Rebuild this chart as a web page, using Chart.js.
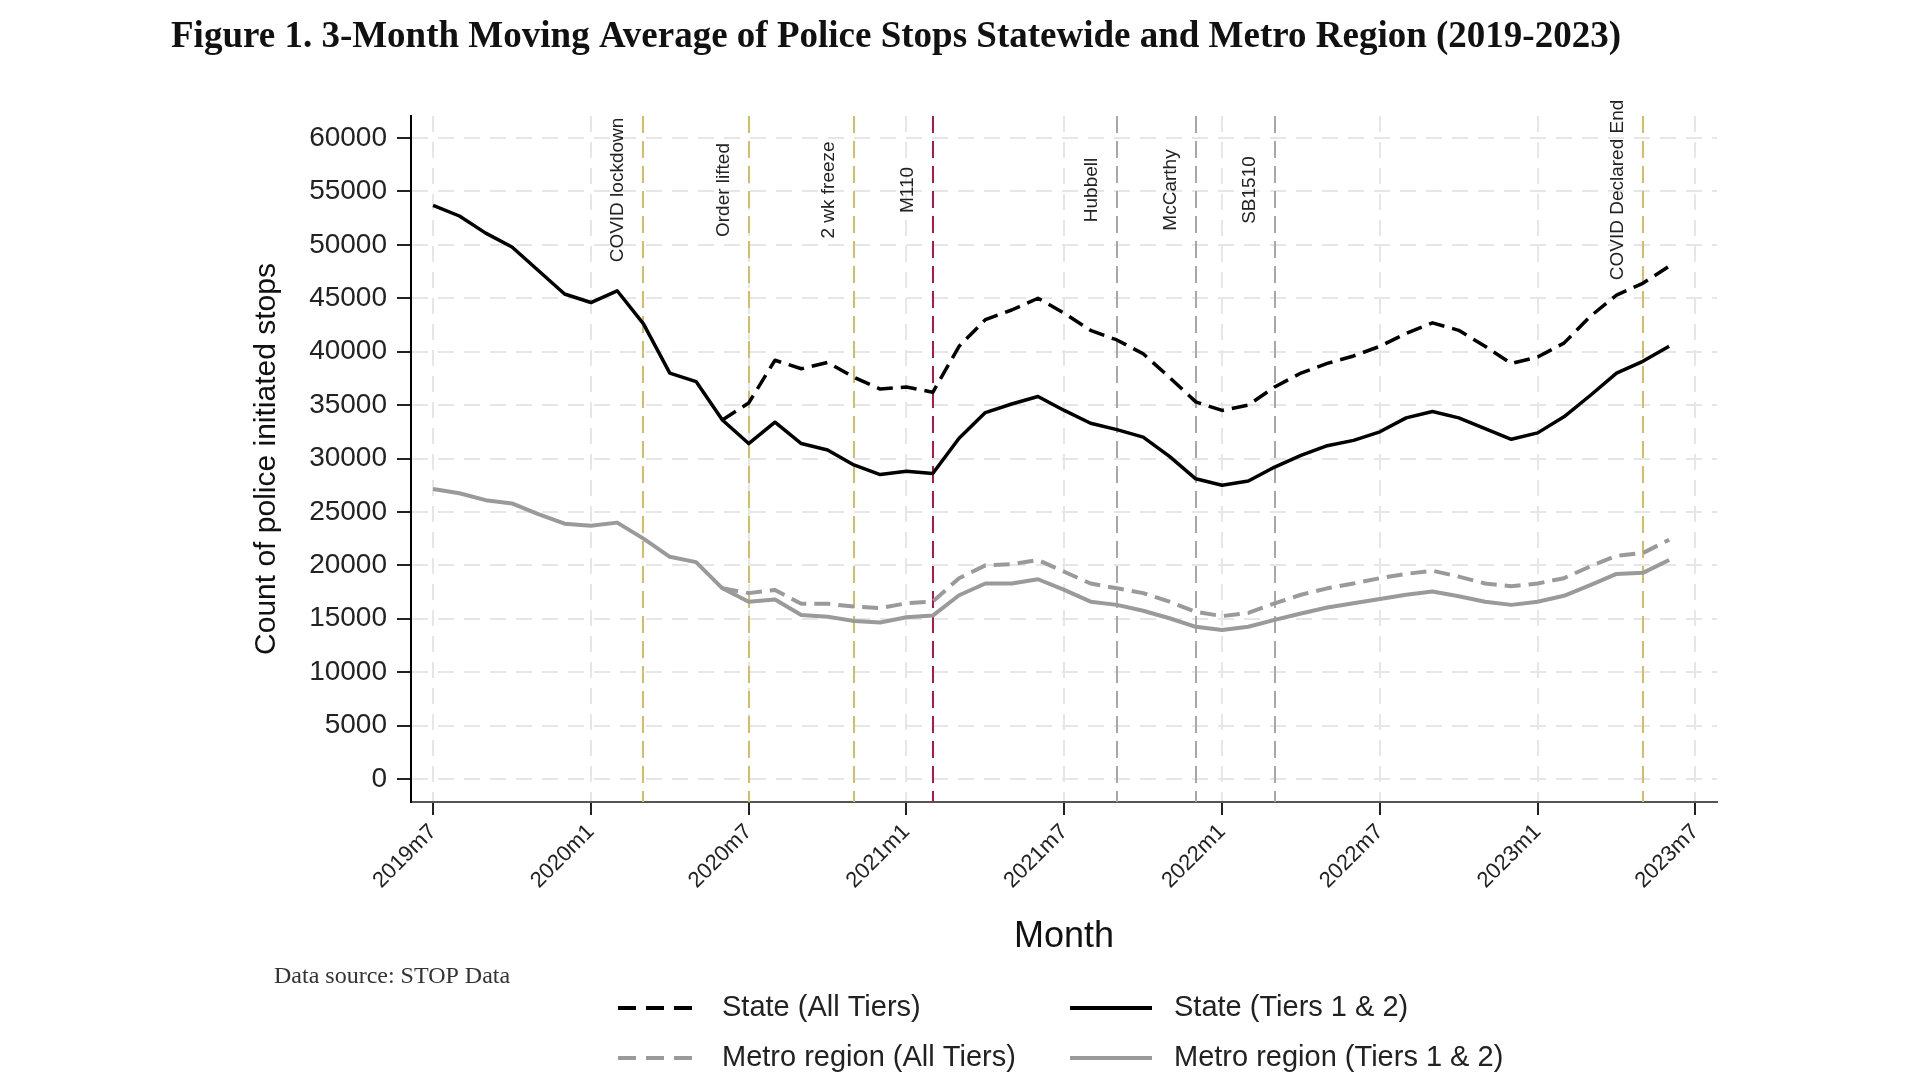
<!DOCTYPE html>
<html>
<head>
<meta charset="utf-8">
<title>3-Month Moving Average of Police Stops</title>
<script src="https://cdn.jsdelivr.net/npm/chart.js@4.4.1/dist/chart.umd.min.js"></script>
<style>
    html, body { margin: 0; padding: 0; background: #fff; }
    #wrap { width: 1920px; height: 1080px; position: relative; }
</style>
</head>
<body>
<div id="wrap"><canvas id="stopsChart"></canvas></div>
<script>
// Months covered by the series (2019m7 .. 2023m6)
const months = [
    '2019m7', '2019m8', '2019m9', '2019m10', '2019m11', '2019m12',
    '2020m1', '2020m2', '2020m3', '2020m4', '2020m5', '2020m6',
    '2020m7', '2020m8', '2020m9', '2020m10', '2020m11', '2020m12',
    '2021m1', '2021m2', '2021m3', '2021m4', '2021m5', '2021m6',
    '2021m7', '2021m8', '2021m9', '2021m10', '2021m11', '2021m12',
    '2022m1', '2022m2', '2022m3', '2022m4', '2022m5', '2022m6',
    '2022m7', '2022m8', '2022m9', '2022m10', '2022m11', '2022m12',
    '2023m1', '2023m2', '2023m3', '2023m4', '2023m5', '2023m6'
];

const stateAllTiers = [
    null, null, null, null, null, null,
    null, null, null, null, null, 33600,
    35200, 39200, 38400, 39000, 37600, 36500,
    36700, 36200, 40500, 43000, 43900, 45000,
    43600, 42000, 41100, 39800, 37600, 35300,
    34500, 35000, 36700, 38000, 38900, 39600,
    40500, 41700, 42700, 42000, 40500, 38900,
    39500, 40800, 43300, 45300, 46400, 48000
];

const stateTiers12 = [
    53700, 52700, 51100, 49800, 47600, 45400,
    44600, 45700, 42600, 38000, 37200, 33600,
    31400, 33400, 31400, 30800, 29400, 28500,
    28800, 28600, 31900, 34300, 35100, 35800,
    34500, 33300, 32700, 32000, 30200, 28100,
    27500, 27900, 29200, 30300, 31200, 31700,
    32500, 33800, 34400, 33800, 32800, 31800,
    32400, 33900, 35900, 38000, 39100, 40500
];

const metroAllTiers = [
    null, null, null, null, null, null,
    null, null, null, null, null, 17850,
    17400, 17700, 16400, 16400, 16150, 16000,
    16450, 16600, 18800, 20000, 20100, 20500,
    19400, 18300, 17850, 17400, 16600, 15650,
    15250, 15550, 16450, 17250, 17850, 18300,
    18800, 19200, 19500, 18950, 18300, 18050,
    18300, 18800, 19900, 20900, 21150, 22400
];

const metroTiers12 = [
    27150, 26750, 26100, 25800, 24800, 23900,
    23700, 24000, 22500, 20800, 20300, 17850,
    16600, 16800, 15350, 15200, 14800, 14650,
    15150, 15300, 17200, 18300, 18300, 18700,
    17700, 16600, 16300, 15750, 15050, 14250,
    13950, 14250, 14900, 15500, 16050, 16450,
    16850, 17250, 17550, 17100, 16600, 16300,
    16600, 17150, 18150, 19200, 19300, 20500
];

const yTickValues = [0, 5000, 10000, 15000, 20000, 25000, 30000, 35000, 40000, 45000, 50000, 55000, 60000];
const xTickMonths = ['2019m7', '2020m1', '2020m7', '2021m1', '2021m7', '2022m1', '2022m7', '2023m1', '2023m7'];

// Policy / event markers
const eventMonths = ['2020m3', '2020m7', '2020m11', '2021m2', '2021m9', '2021m12', '2022m3', '2023m5'];
const eventLabels = ['COVID lockdown', 'Order lifted', '2 wk freeze', 'M110', 'Hubbell', 'McCarthy', 'SB1510', 'COVID Declared End'];
const eventColors = ['#d6bc62', '#d6bc62', '#d6bc62', '#b3154c', '#a8a8a8', '#a8a8a8', '#a8a8a8', '#d6bc62'];

const SANS = '"Liberation Sans", Arial, Helvetica, sans-serif';
const SERIF = '"Liberation Serif", "Times New Roman", serif';

// month label -> months since 2019m7
function monthPos(label) {
    const [y, m] = label.split('m').map(Number);
    return (y - 2019) * 12 + (m - 7);
}

function toPoints(values) {
    return values.map((v, i) => ({ x: monthPos(months[i]), y: v }));
}

// Vertical dashed event lines with rotated captions
const eventLinesPlugin = {
    id: 'eventLines',
    beforeDatasetsDraw(chart) {
        const { ctx, chartArea } = chart;
        const xScale = chart.scales.x;
        eventMonths.forEach((m, i) => {
            const x = Math.round(xScale.getPixelForValue(monthPos(m)));
            ctx.save();
            ctx.strokeStyle = eventColors[i];
            ctx.lineWidth = 2;
            ctx.setLineDash([17, 8]);
            ctx.beginPath();
            ctx.moveTo(x, chartArea.top);
            ctx.lineTo(x, chartArea.bottom);
            ctx.stroke();
            ctx.restore();

            ctx.save();
            ctx.translate(x - 25, chartArea.top + 74);
            ctx.rotate(-Math.PI / 2);
            ctx.font = '19px ' + SANS;
            ctx.fillStyle = '#222';
            ctx.textAlign = 'center';
            ctx.textBaseline = 'middle';
            ctx.fillText(eventLabels[i], 0, 0);
            ctx.restore();
        });
    }
};

// Two-column legend and source note under the axis
const footerPlugin = {
    id: 'footer',
    afterDraw(chart) {
        const { ctx } = chart;
        const slots = [
            { label: 'State (All Tiers)', x: 618, y: 1008 },
            { label: 'State (Tiers 1 & 2)', x: 1070, y: 1008 },
            { label: 'Metro region (All Tiers)', x: 618, y: 1058 },
            { label: 'Metro region (Tiers 1 & 2)', x: 1070, y: 1058 }
        ];
        slots.forEach(slot => {
            const ds = chart.data.datasets.find(d => d.label === slot.label);
            ctx.save();
            ctx.strokeStyle = ds.borderColor;
            ctx.lineWidth = 4;
            ctx.setLineDash(ds.borderDash && ds.borderDash.length ? [18, 10] : []);
            ctx.beginPath();
            ctx.moveTo(slot.x, slot.y);
            ctx.lineTo(slot.x + 82, slot.y);
            ctx.stroke();
            ctx.restore();

            ctx.save();
            ctx.font = '29px ' + SANS;
            ctx.fillStyle = '#222';
            ctx.textBaseline = 'middle';
            ctx.fillText(slot.label, slot.x + 104, slot.y);
            ctx.restore();
        });

        ctx.save();
        ctx.font = '24px ' + SERIF;
        ctx.fillStyle = '#333';
        ctx.textBaseline = 'middle';
        ctx.fillText('Data source: STOP Data', 274, 977);
        ctx.restore();
    }
};

function buildChart() {
    const ctx = document.getElementById('stopsChart').getContext('2d');

    new Chart(ctx, {
        type: 'line',
        data: {
            datasets: [
                {
                    label: 'Metro region (All Tiers)',
                    data: toPoints(metroAllTiers),
                    borderColor: '#9a9a9a',
                    borderWidth: 4,
                    borderDash: [16, 8]
                },
                {
                    label: 'Metro region (Tiers 1 & 2)',
                    data: toPoints(metroTiers12),
                    borderColor: '#9a9a9a',
                    borderWidth: 4
                },
                {
                    label: 'State (All Tiers)',
                    data: toPoints(stateAllTiers),
                    borderColor: '#000000',
                    borderWidth: 3.5,
                    borderDash: [16, 8]
                },
                {
                    label: 'State (Tiers 1 & 2)',
                    data: toPoints(stateTiers12),
                    borderColor: '#000000',
                    borderWidth: 3.5
                }
            ]
        },
        options: {
            responsive: true,
            maintainAspectRatio: false,
            animation: false,
            layout: {
                padding: { left: 75, right: 203, top: 0, bottom: 118 }
            },
            elements: {
                point: { radius: 0 },
                line: { tension: 0, borderJoinStyle: 'round' }
            },
            plugins: {
                legend: { display: false },
                tooltip: { enabled: false },
                title: {
                    display: true,
                    text: 'Figure 1. 3-Month Moving Average of Police Stops Statewide and Metro Region (2019-2023)',
                    color: '#111',
                    font: { family: SERIF, size: 37, weight: 'bold' },
                    padding: { top: 15, bottom: 56.6 }
                }
            },
            scales: {
                x: {
                    type: 'linear',
                    bounds: 'data',
                    min: -0.84,
                    max: 48.82,
                    afterBuildTicks: scale => {
                        scale.ticks = xTickMonths.map(m => ({ value: monthPos(m) }));
                    },
                    afterFit: scale => { scale.height = 160; },
                    ticks: {
                        autoSkip: false,
                        minRotation: 45,
                        maxRotation: 45,
                        padding: 4,
                        color: '#222',
                        font: { family: SANS, size: 22 },
                        callback: value => xTickMonths.find(m => monthPos(m) === value) || ''
                    },
                    grid: {
                        color: '#e6e6e6',
                        lineWidth: 2,
                        tickLength: 13,
                        tickColor: '#222',
                        tickWidth: 2,
                        tickBorderDash: []
                    },
                    border: { display: true, color: '#555', width: 2, dash: [16, 10] },
                    title: {
                        display: true,
                        text: 'Month',
                        color: '#111',
                        font: { family: SANS, size: 36 },
                        padding: { top: 0, bottom: 3 }
                    }
                },
                y: {
                    type: 'linear',
                    bounds: 'data',
                    min: -2150,
                    max: 62060,
                    afterBuildTicks: scale => {
                        scale.ticks = yTickValues.map(v => ({ value: v }));
                    },
                    afterFit: scale => { scale.width = 336; },
                    ticks: {
                        padding: 10,
                        color: '#222',
                        font: { family: SANS, size: 28 },
                        callback: value => String(value)
                    },
                    grid: {
                        color: '#e6e6e6',
                        lineWidth: 2,
                        tickLength: 14,
                        tickColor: '#222',
                        tickWidth: 2,
                        tickBorderDash: []
                    },
                    border: { display: true, color: '#000', width: 2, dash: [16, 10] },
                    title: {
                        display: true,
                        text: 'Count of police initiated stops',
                        color: '#111',
                        font: { family: SANS, size: 30 },
                        padding: { top: 174, bottom: 0 }
                    }
                }
            }
        },
        plugins: [eventLinesPlugin, footerPlugin]
    });
}

document.addEventListener('DOMContentLoaded', buildChart);
</script>
</body>
</html>
